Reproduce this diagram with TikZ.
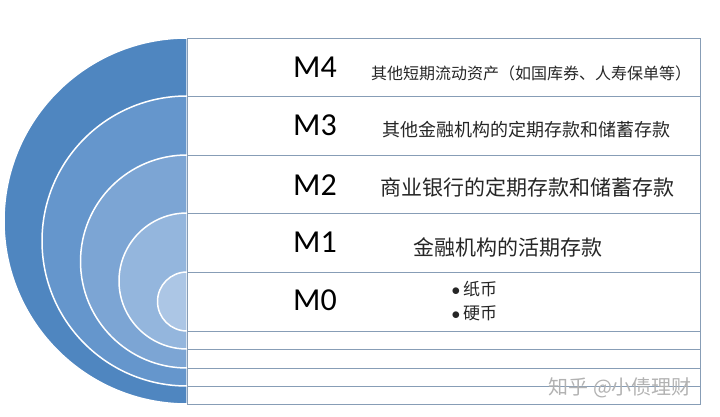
\documentclass[tikz,border=0pt]{standalone}
\usepackage{fontspec}
\setmainfont{Carlito}
\newfontfamily\cjk{Noto Sans CJK SC}
\usetikzlibrary{positioning}
\definecolor{ringA}{RGB}{79,134,192}
\definecolor{ringB}{RGB}{101,150,204}
\definecolor{ringC}{RGB}{124,165,212}
\definecolor{ringD}{RGB}{148,182,221}
\definecolor{ringE}{RGB}{172,198,229}
\definecolor{rowline}{RGB}{135,157,182}

\begin{document}
\begin{tikzpicture}[x=1pt,y=1pt,
  ring/.style={draw=white, line width=1.5pt},
  rule/.style={draw=rowline, line width=0.9pt},
  level/.style={font=\fontsize{32}{34}\selectfont},
  desc/.style={font=\cjk\fontsize{#1}{24}\selectfont, text=black!85},
  desc/.default=18]
\useasboundingbox (0,0) rectangle (720,417);

% Nested half discs
\draw[ring, fill=ringA] (187,379) arc[start angle=90, end angle=270, radius=183] -- cycle;
\draw[ring, fill=ringB] (187,321) arc[start angle=90, end angle=270, radius=145] -- cycle;
\draw[ring, fill=ringC] (187,262) arc[start angle=90, end angle=270, radius=106.5] -- cycle;
\draw[ring, fill=ringD] (187,204) arc[start angle=90, end angle=270, radius=68] -- cycle;
\draw[ring, fill=ringE] (187,145) arc[start angle=90, end angle=270, radius=29.5] -- cycle;

% Rows of the table
\draw[rule] (187,379) rectangle (700,13);
\foreach \y in {321,262,204,145,86,68,49,31}
  \draw[rule] (187,\y) -- (700,\y);

% Levels
\node[level] (m4) at (315,350) {M4};
\node[level] (m3) at (315,292) {M3};
\node[level] (m2) at (315,232) {M2};
\node[level] (m1) at (315,175) {M1};
\node[level] (m0) at (315,117) {M0};

% Contents
\node[desc=16] (d4) at (531,344) {其他短期流动资产（如国库券、人寿保单等）};
\node[desc=18] (d3) at (526,287) {其他金融机构的定期存款和储蓄存款};
\node[desc=21] (d2) at (527,230) {商业银行的定期存款和储蓄存款};
\node[desc=21] (d1) at (508,170) {金融机构的活期存款};
\node[desc=17, align=left, anchor=west] (d0) at (448,116) {$\bullet$\,纸币\\$\bullet$\,硬币};

% Watermark
\node[font=\cjk\fontsize{20}{22}\selectfont, text=black!30, anchor=west] (wm) at (545,29) {知乎 @小债理财};
\end{tikzpicture}
\end{document}
